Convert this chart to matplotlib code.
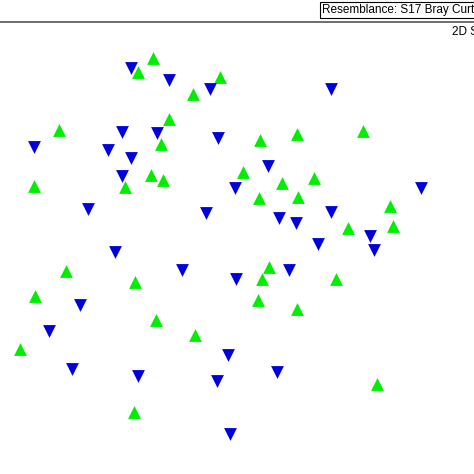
import matplotlib
matplotlib.use("Agg")
import matplotlib.pyplot as plt

green_x = [153,138,220,193,169,59,161,260,297,363,34,151,163,125,243,282,314,259,298,390,348,393,269,262,66,135,336,258,35,297,156,195,20,377,134]
green_y = [58,72,77,94,119,130,144,140,134,131,186,175,180,187,172,183,178,198,197,206,228,226,267,279,271,282,279,300,296,309,320,335,349,384,412]
blue_x = [131,169,210,331,122,157,218,34,108,131,122,268,235,88,206,421,279,331,296,370,318,374,115,182,236,289,80,49,228,72,138,277,217,230]
blue_y = [68,80,89,89,132,133,138,147,150,158,176,166,188,209,213,188,218,212,223,236,244,250,252,270,279,270,305,331,355,369,376,372,381,434]

fig = plt.figure(figsize=(4.74, 4.74), dpi=100)
ax = fig.add_axes([0, 0, 1, 452/474])
ax.scatter(green_x, green_y, marker='^', s=85, c='#00ee00', linewidths=0)
ax.scatter(blue_x, blue_y, marker='v', s=85, c='#0000dd', linewidths=0)
ax.set_xlim(0, 474)
ax.set_ylim(474, 22)
ax.set_xticks([]); ax.set_yticks([])
for s in ['left', 'right', 'bottom']:
    ax.spines[s].set_visible(False)
ax.spines['top'].set_color('#555555')
ax.spines['top'].set_linewidth(1.2)
fig.text(322/474, 1 - 10/474, "Resemblance: S17 Bray Curtis similarity", fontsize=8.5,
         family='Liberation Sans', va='center', ha='left',
         bbox=dict(boxstyle='square,pad=0.15', fc='white', ec='black', lw=0.8))
fig.text(452/474, 1 - 32/474, "2D Stress: 0.2", fontsize=8.5, family='Liberation Sans',
         va='center', ha='left')
fig.savefig("out.png", dpi=100)
